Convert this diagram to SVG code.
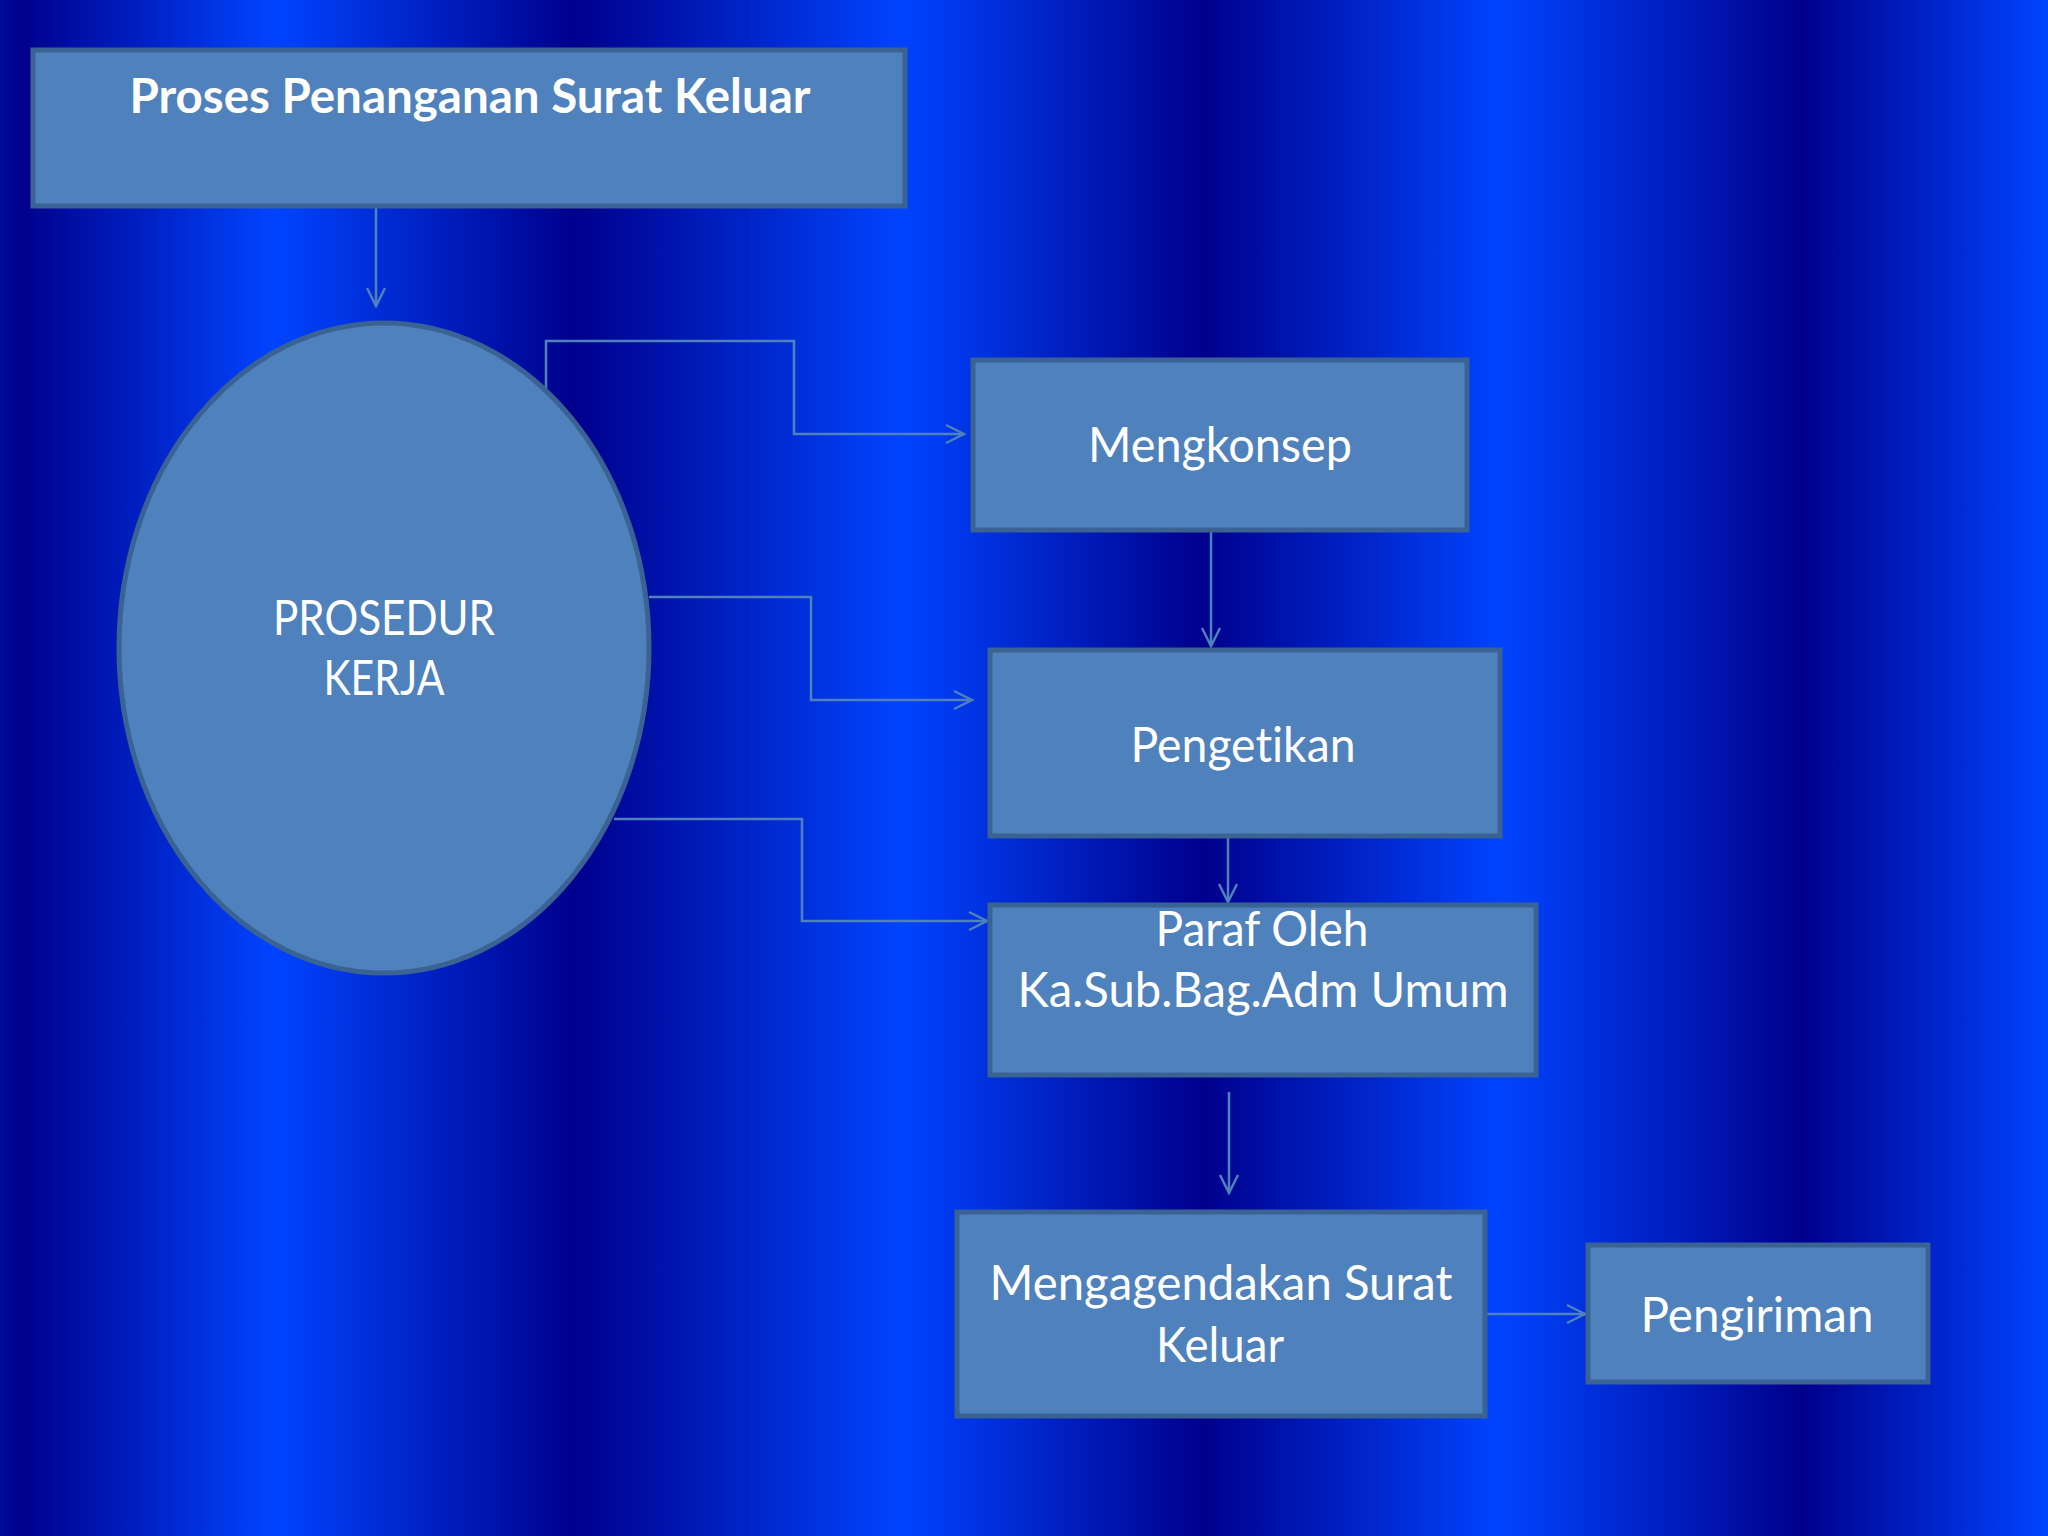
<svg xmlns="http://www.w3.org/2000/svg" width="2048" height="1536" viewBox="0 0 2048 1536">
  <defs>
    <linearGradient id="bg" gradientUnits="userSpaceOnUse" x1="0" y1="0" x2="2048" y2="0">
      <stop offset="0" stop-color="#000c99"/>
      <stop offset="0.01" stop-color="#00008c"/>
      <stop offset="0.134" stop-color="#0044ff"/>
      <stop offset="0.281" stop-color="#00008c"/>
      <stop offset="0.44" stop-color="#0044ff"/>
      <stop offset="0.587" stop-color="#00008c"/>
      <stop offset="0.733" stop-color="#0044ff"/>
      <stop offset="0.88" stop-color="#00008c"/>
      <stop offset="1" stop-color="#0044ff"/>
    </linearGradient>
    <marker id="arr" markerUnits="userSpaceOnUse" markerWidth="24" markerHeight="24" viewBox="0 0 24 24" refX="21" refY="12" orient="auto">
      <path d="M3,3 L21,12 L3,21" fill="none" stroke="#4f81bd" stroke-width="2.5"/>
    </marker>
    <style>
      .box { fill: #4f81bd; stroke: #3a6394; stroke-width: 5; }
      .lbl { font-family: Lato, "Liberation Sans", sans-serif; font-size: 48px; fill: #ffffff; text-anchor: middle; font-variant-ligatures: none; font-feature-settings: "liga" 0, "clig" 0; }
      .ttl { font-weight: bold; }
      .con { fill: none; stroke: #4f81bd; stroke-width: 2.5; marker-end: url(#arr); }
    </style>
  </defs>
  <rect x="0" y="0" width="2048" height="1536" fill="url(#bg)"/>

  <g id="connectors">
    <path class="con" d="M376,207 V306"/>
    <path class="con" d="M546,392 V341 H794 V434 H964"/>
    <path class="con" d="M649,597 H811 V700 H972"/>
    <path class="con" d="M614,819 H802 V921 H987"/>
    <path class="con" d="M1211,531 V646"/>
    <path class="con" d="M1228,837 V902"/>
    <path class="con" d="M1229,1092 V1193"/>
    <path class="con" d="M1486,1314 H1585"/>
  </g>

  <g id="title">
    <rect class="box" x="33" y="50" width="872" height="156"/>
    <text class="lbl ttl" x="470" y="113" textLength="681" lengthAdjust="spacingAndGlyphs">Proses Penanganan Surat Keluar</text>
  </g>

  <g id="prosedur">
    <ellipse class="box" cx="384" cy="648" rx="265" ry="325"/>
    <text class="lbl" x="384" y="635" textLength="222" lengthAdjust="spacingAndGlyphs">PROSEDUR</text>
    <text class="lbl" x="384" y="695" textLength="121" lengthAdjust="spacingAndGlyphs">KERJA</text>
  </g>

  <g id="mengkonsep">
    <rect class="box" x="973" y="360" width="494" height="170"/>
    <text class="lbl" x="1220" y="462" textLength="264" lengthAdjust="spacingAndGlyphs">Mengkonsep</text>
  </g>

  <g id="pengetikan">
    <rect class="box" x="990" y="650" width="510" height="186"/>
    <text class="lbl" x="1243" y="762" textLength="225" lengthAdjust="spacingAndGlyphs">Pengetikan</text>
  </g>

  <g id="paraf">
    <rect class="box" x="990" y="905" width="546" height="170"/>
    <text class="lbl" x="1262" y="946" textLength="213" lengthAdjust="spacingAndGlyphs">Paraf Oleh</text>
    <text class="lbl" x="1263" y="1007" textLength="491" lengthAdjust="spacingAndGlyphs">Ka.Sub.Bag.Adm Umum</text>
  </g>

  <g id="mengagendakan">
    <rect class="box" x="957" y="1212" width="528" height="204"/>
    <text class="lbl" x="1221" y="1300" textLength="463" lengthAdjust="spacingAndGlyphs">Mengagendakan Surat</text>
    <text class="lbl" x="1220" y="1362" textLength="128" lengthAdjust="spacingAndGlyphs">Keluar</text>
  </g>

  <g id="pengiriman">
    <rect class="box" x="1588" y="1245" width="340" height="137"/>
    <text class="lbl" x="1757" y="1332" textLength="233" lengthAdjust="spacingAndGlyphs">Pengiriman</text>
  </g>
</svg>
